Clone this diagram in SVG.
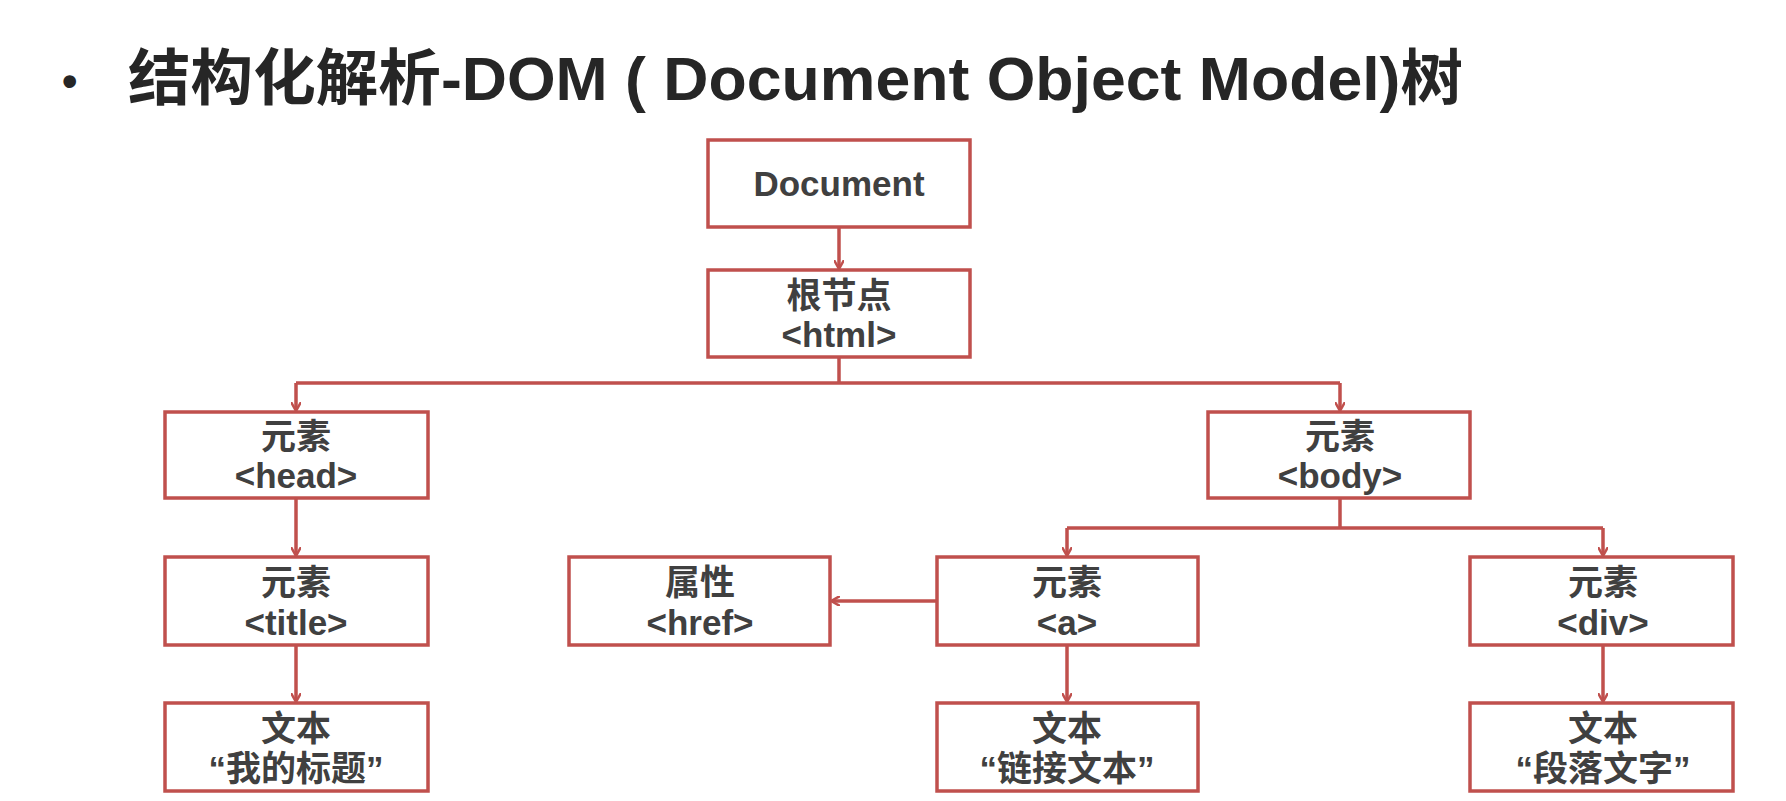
<svg xmlns="http://www.w3.org/2000/svg" width="1786" height="801" viewBox="0 0 1786 801">
<style>
.box{fill:#fff;stroke:#c0504d;stroke-width:3.5}
.t{font-family:"Liberation Sans","Noto Sans CJK SC",sans-serif;font-weight:bold;font-size:35px;fill:#404040;text-anchor:middle}
.c{fill:none;stroke:#c0504d;stroke-width:3.5}
</style>
<defs><marker id="ah" markerWidth="10" markerHeight="10" refX="8" refY="5" orient="auto" markerUnits="userSpaceOnUse"><path d="M0,0 L9,5 L0,10" fill="none" stroke="#c0504d" stroke-width="2.5"/></marker></defs>
<rect width="1786" height="801" fill="#fff"/>
<text x="62" y="96" font-family="Liberation Sans,Noto Sans CJK SC,sans-serif" font-size="44" font-weight="bold" fill="#262626">•</text>
<text x="128" y="100" font-family="Liberation Sans,Noto Sans CJK SC,sans-serif" font-size="61" font-weight="bold" fill="#262626" textLength="1335" lengthAdjust="spacingAndGlyphs">结构化解析-DOM ( Document Object Model)树</text>
<g id="connectors">
<path class="c" d="M839,227 V268" marker-end="url(#ah)"/>
<path class="c" d="M839,357 V383 M296,383 H1340 M296,383 V410" marker-end="url(#ah)"/>
<path class="c" d="M1340,383 V410" marker-end="url(#ah)"/>
<path class="c" d="M296,498 V555" marker-end="url(#ah)"/>
<path class="c" d="M296,645 V701" marker-end="url(#ah)"/>
<path class="c" d="M1340,498 V528 M1067,528 H1603 M1067,528 V555" marker-end="url(#ah)"/>
<path class="c" d="M1603,528 V555" marker-end="url(#ah)"/>
<path class="c" d="M937,601 H832" marker-end="url(#ah)"/>
<path class="c" d="M1067,645 V701" marker-end="url(#ah)"/>
<path class="c" d="M1603,645 V701" marker-end="url(#ah)"/>
</g>
<g id="document"><rect class="box" x="708" y="140" width="262" height="87"/><text class="t" x="839" y="196">Document</text></g>
<g id="html"><rect class="box" x="708" y="270" width="262" height="87"/><text class="t" x="839" y="308">根节点</text><text class="t" x="839" y="347">&lt;html&gt;</text></g>
<g id="head"><rect class="box" x="165" y="412" width="263" height="86"/><text class="t" x="296" y="449">元素</text><text class="t" x="296" y="488">&lt;head&gt;</text></g>
<g id="body"><rect class="box" x="1208" y="412" width="262" height="86"/><text class="t" x="1340" y="449">元素</text><text class="t" x="1340" y="488">&lt;body&gt;</text></g>
<g id="title"><rect class="box" x="165" y="557" width="263" height="88"/><text class="t" x="296" y="595">元素</text><text class="t" x="296" y="635">&lt;title&gt;</text></g>
<g id="href"><rect class="box" x="569" y="557" width="261" height="88"/><text class="t" x="700" y="595">属性</text><text class="t" x="700" y="635">&lt;href&gt;</text></g>
<g id="a"><rect class="box" x="937" y="557" width="261" height="88"/><text class="t" x="1067" y="595">元素</text><text class="t" x="1067" y="635">&lt;a&gt;</text></g>
<g id="div"><rect class="box" x="1470" y="557" width="263" height="88"/><text class="t" x="1603" y="595">元素</text><text class="t" x="1603" y="635">&lt;div&gt;</text></g>
<g id="text1"><rect class="box" x="165" y="703" width="263" height="88"/><text class="t" x="296" y="741">文本</text><text class="t" x="296" y="781">“我的标题”</text></g>
<g id="text2"><rect class="box" x="937" y="703" width="261" height="88"/><text class="t" x="1067" y="741">文本</text><text class="t" x="1067" y="781">“链接文本”</text></g>
<g id="text3"><rect class="box" x="1470" y="703" width="263" height="88"/><text class="t" x="1603" y="741">文本</text><text class="t" x="1603" y="781">“段落文字”</text></g>
</svg>
